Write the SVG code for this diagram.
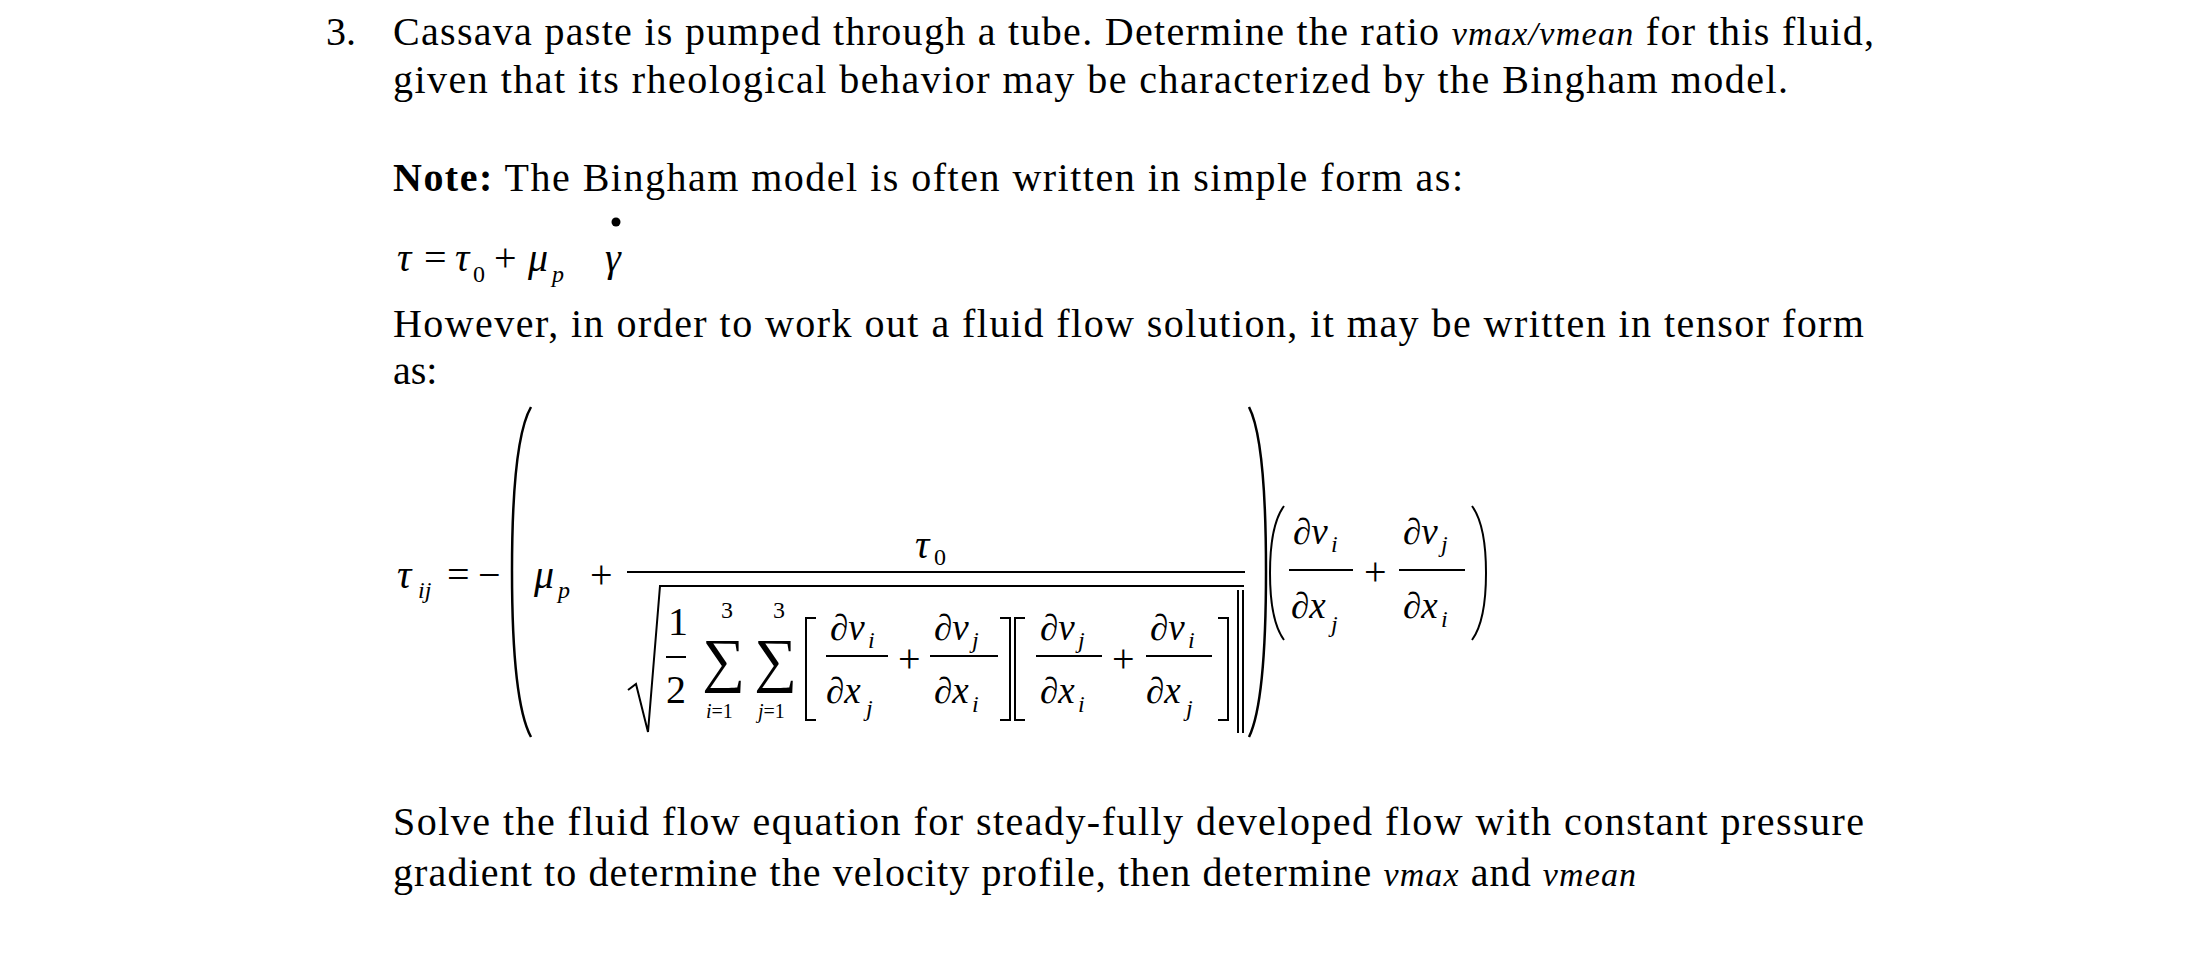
<svg xmlns="http://www.w3.org/2000/svg" width="2204" height="959" viewBox="0 0 2204 959" font-family="Liberation Serif, Tinos, Times New Roman, Times, serif">
<style>
text{font-family:"Liberation Serif",Tinos,"Times New Roman",Times,serif;fill:#000}
.t{font-size:40px}
.m{font-size:40px;font-style:italic}
.f{font-size:37px;font-style:italic}
.s{font-size:24px;font-style:italic}
.n{font-size:24px}
.u{font-style:normal}
.b{font-weight:bold}
.ln{stroke:#000;stroke-width:2;fill:none}
.pn{stroke:#000;stroke-width:2.5;fill:none}
</style>
<rect width="2204" height="959" fill="#fff"/>
<g id="problem">
<text class="t" x="326" y="45">3.</text>
<text class="t" x="393" y="45" textLength="1481" lengthAdjust="spacing">Cassava paste is pumped through a tube.  Determine the ratio <tspan font-style="italic" font-size="34">vmax/vmean</tspan> for this fluid,</text>
<text class="t" x="393" y="93" textLength="1395" lengthAdjust="spacing">given that its rheological behavior may be characterized by the Bingham model.</text>
<text class="t" x="393" y="191" textLength="1070" lengthAdjust="spacing"><tspan class="b">Note:</tspan> The Bingham model is often written in simple form as:</text>
</g>
<g id="simple-eq">
<circle cx="616" cy="222" r="4.5" fill="#000"/>
<text class="m" x="397" y="271">τ</text>
<text class="t" x="424" y="271">=</text>
<text class="m" x="455" y="271">τ</text>
<text class="n" x="473" y="282">0</text>
<text class="t" x="494" y="271">+</text>
<text class="m" x="528" y="271">μ</text>
<text class="s" x="552" y="282">p</text>
<text class="m" x="605" y="271">γ</text>
</g>
<g id="tensor-text">
<text class="t" x="393" y="337" textLength="1471" lengthAdjust="spacing">However, in order to work out a fluid flow solution, it may be written in tensor form</text>
<text class="t" x="393" y="384">as:</text>
</g>
<g id="tensor-eq">
<text class="m" x="397" y="588">τ</text>
<text class="s" x="418" y="598">ij</text>
<text class="t" x="447" y="588">=</text>
<text class="t" x="478" y="588">−</text>
<path class="pn" d="M531,407 Q512,440 512,571 Q512,702 531,737"/>
<path class="pn" d="M1249,407 Q1266,440 1266,571 Q1266,702 1249,737"/>
<text class="m" x="534" y="588">μ</text>
<text class="s" x="558" y="598">p</text>
<text class="t" x="590" y="588">+</text>
<line class="ln" x1="627" y1="572" x2="1245" y2="572"/>
<text class="m" x="915" y="558">τ</text>
<text class="n" x="934" y="565">0</text>
<path class="ln" d="M628,690 L636,684 L648,732 L660,586 L1244,586"/>
<line class="ln" x1="1238" y1="590" x2="1238" y2="733"/>
<line class="ln" x1="1243" y1="590" x2="1243" y2="733"/>
<text class="t" x="668" y="635">1</text>
<line class="ln" x1="666" y1="657" x2="686" y2="657"/>
<text class="t" x="666" y="703">2</text>
<text class="n" x="721" y="618">3</text>
<text class="n" x="773" y="618">3</text>
<text font-size="60" x="702" y="680">∑</text>
<text font-size="60" x="754" y="680">∑</text>
<text font-size="20" font-style="italic" x="706" y="718"><tspan>i</tspan><tspan class="u">=1</tspan></text>
<text font-size="20" font-style="italic" x="758" y="718"><tspan>j</tspan><tspan class="u">=1</tspan></text>
<path class="ln" d="M816,618 L806,618 L806,720 L816,720"/>
<path class="ln" d="M1000,618 L1010,618 L1010,720 L1000,720"/>
<path class="ln" d="M1025,618 L1015,618 L1015,720 L1025,720"/>
<path class="ln" d="M1218,618 L1228,618 L1228,720 L1218,720"/>
<g id="frac1"><text class="f" x="830" y="640">∂v</text><text class="s" x="868" y="648">i</text><line class="ln" x1="826" y1="656" x2="888" y2="656"/><text class="f" x="826" y="703">∂x</text><text class="s" x="866" y="716">j</text></g>
<text class="t" x="898" y="672">+</text>
<g id="frac2"><text class="f" x="934" y="640">∂v</text><text class="s" x="972" y="648">j</text><line class="ln" x1="930" y1="656" x2="998" y2="656"/><text class="f" x="934" y="703">∂x</text><text class="s" x="972" y="712">i</text></g>
<g id="frac3"><text class="f" x="1040" y="640">∂v</text><text class="s" x="1078" y="648">j</text><line class="ln" x1="1036" y1="656" x2="1102" y2="656"/><text class="f" x="1040" y="703">∂x</text><text class="s" x="1078" y="712">i</text></g>
<text class="t" x="1112" y="672">+</text>
<g id="frac4"><text class="f" x="1150" y="640">∂v</text><text class="s" x="1188" y="648">i</text><line class="ln" x1="1146" y1="656" x2="1212" y2="656"/><text class="f" x="1146" y="703">∂x</text><text class="s" x="1186" y="716">j</text></g>
<path class="ln" d="M1284,506 Q1270,525 1270,573 Q1270,621 1284,640"/>
<path class="ln" d="M1472,506 Q1486,525 1486,573 Q1486,621 1472,640"/>
<g id="frac5"><text class="f" x="1293" y="544">∂v</text><text class="s" x="1331" y="552">i</text><line class="ln" x1="1289" y1="570" x2="1353" y2="570"/><text class="f" x="1291" y="618">∂x</text><text class="s" x="1331" y="632">j</text></g>
<text class="t" x="1364" y="585">+</text>
<g id="frac6"><text class="f" x="1403" y="544">∂v</text><text class="s" x="1441" y="552">j</text><line class="ln" x1="1399" y1="570" x2="1465" y2="570"/><text class="f" x="1403" y="618">∂x</text><text class="s" x="1441" y="627">i</text></g>
</g>
<g id="solve">
<text class="t" x="393" y="835" textLength="1471" lengthAdjust="spacing">Solve the fluid flow equation for steady-fully developed flow with constant pressure</text>
<text class="t" x="393" y="886" textLength="1243" lengthAdjust="spacing">gradient to determine the velocity profile, then determine <tspan font-style="italic" font-size="34">vmax</tspan> and <tspan font-style="italic" font-size="34">vmean</tspan></text>
</g>
</svg>
